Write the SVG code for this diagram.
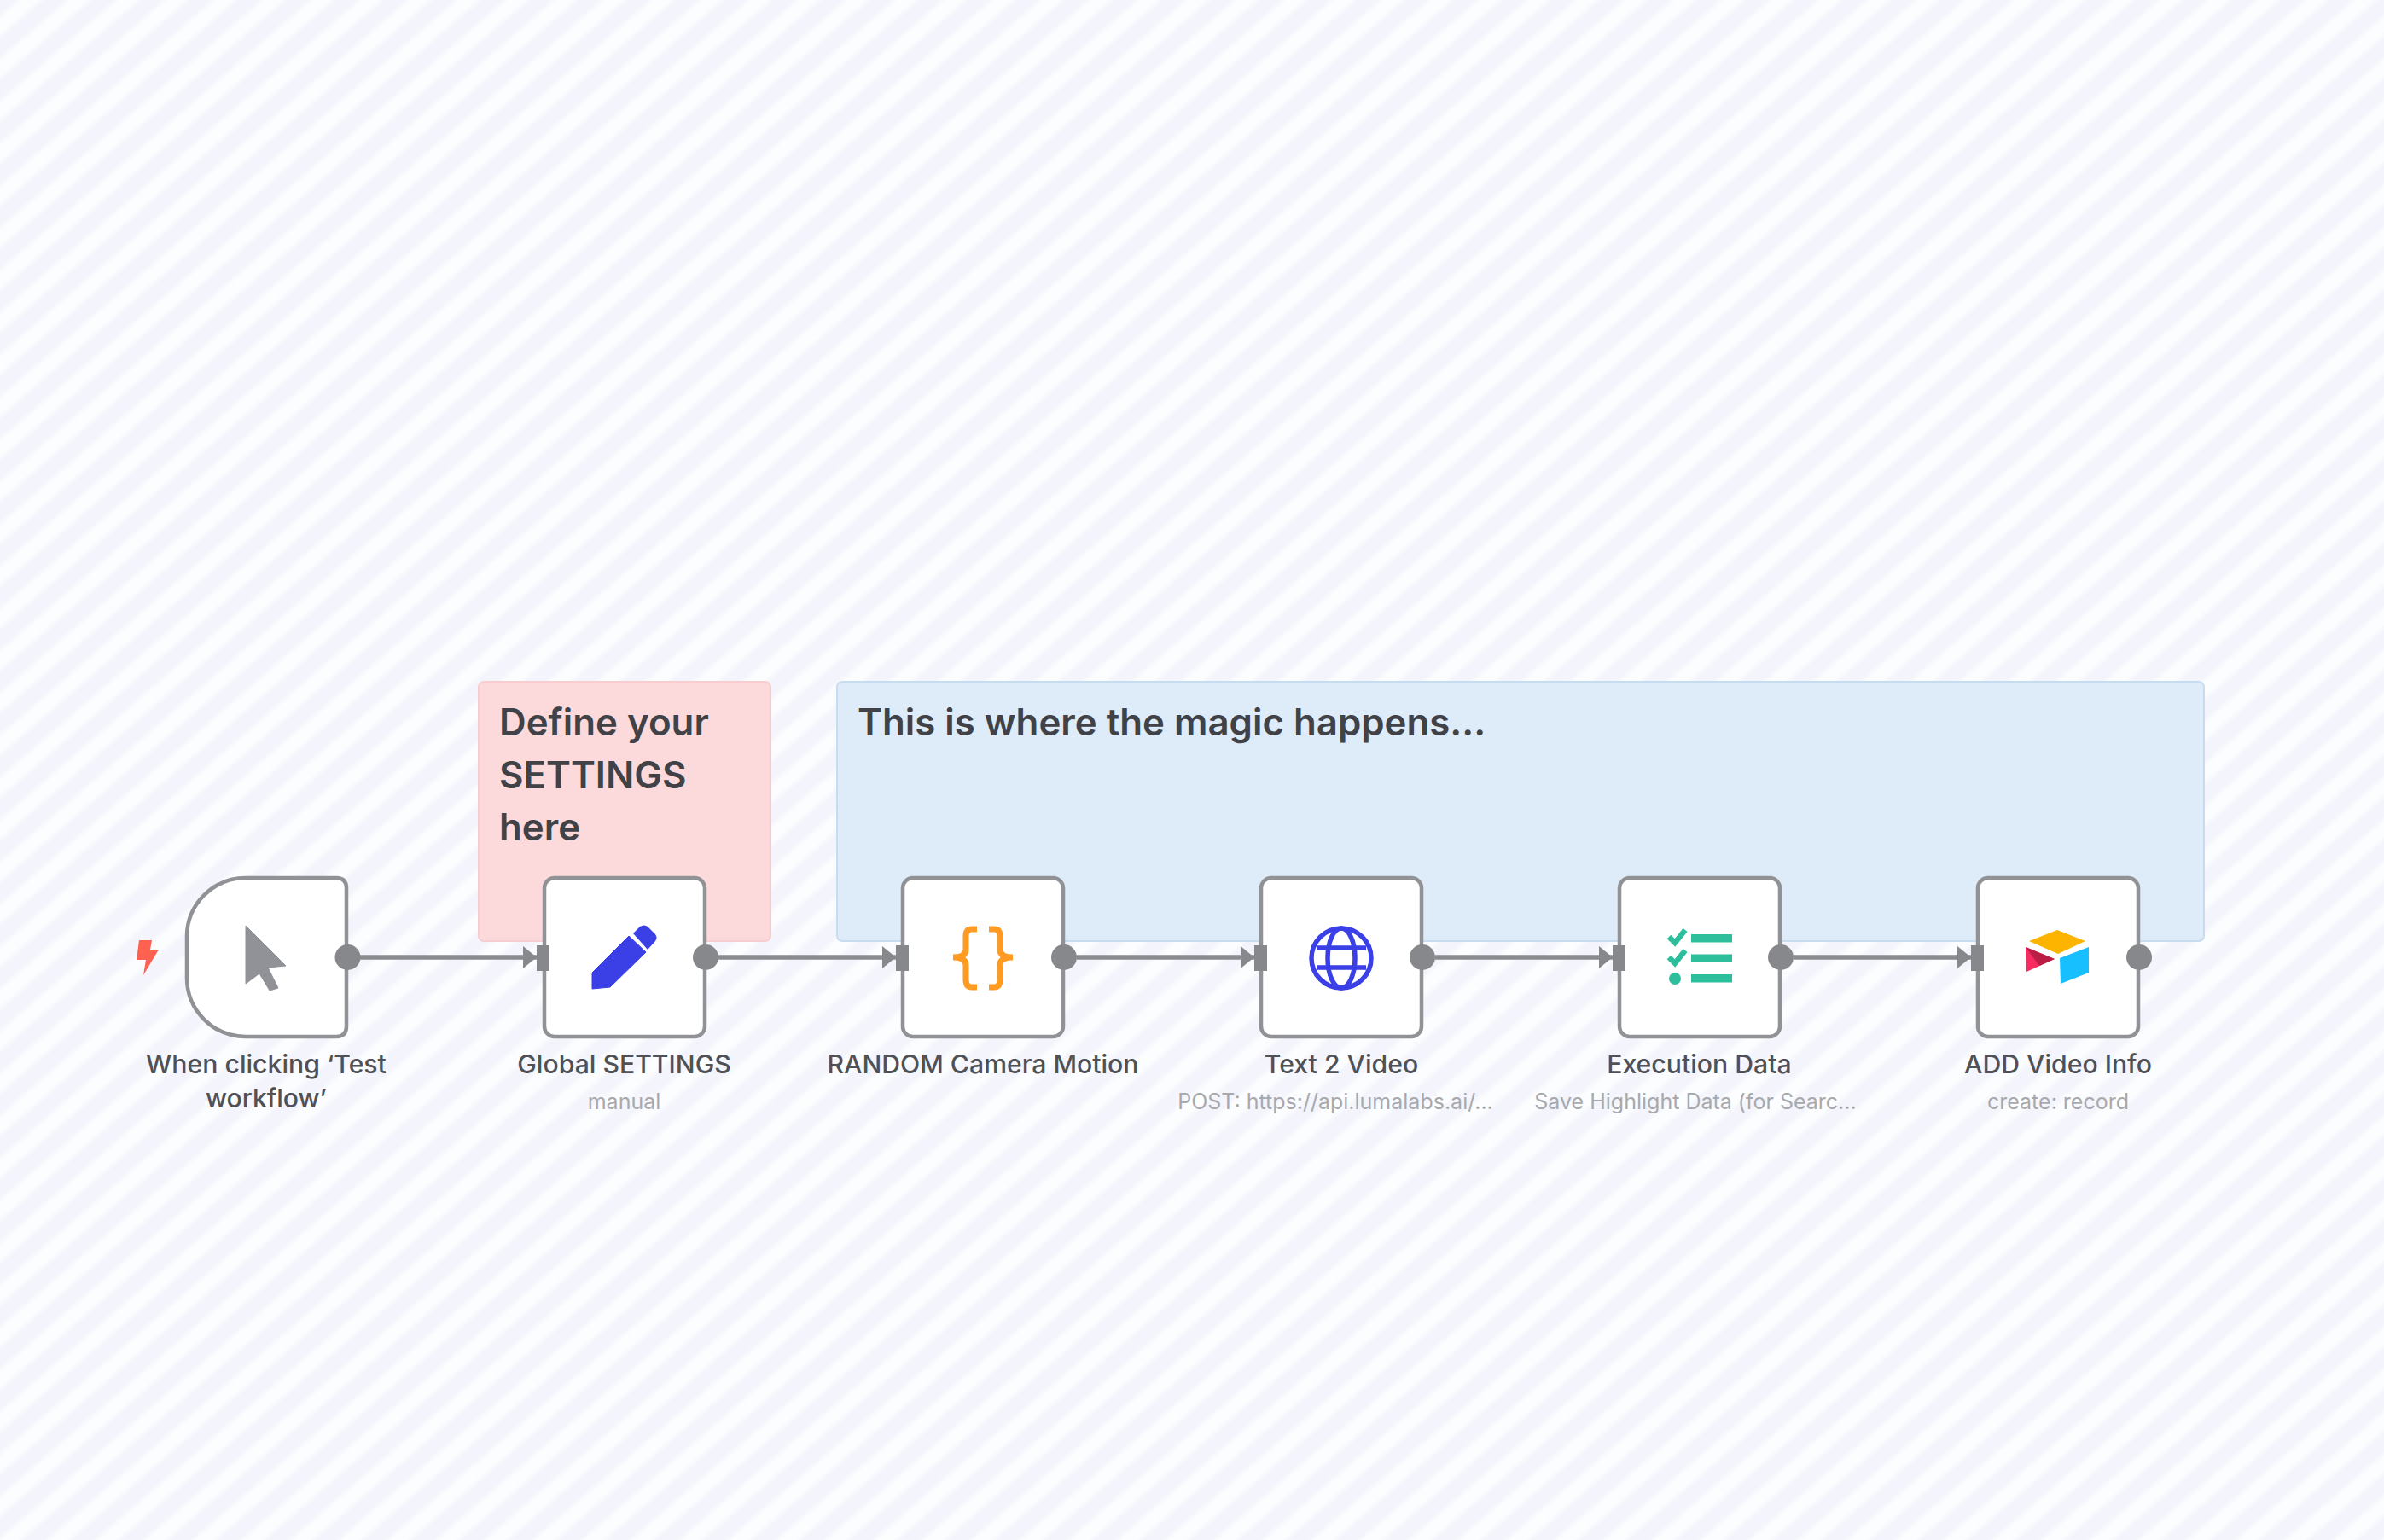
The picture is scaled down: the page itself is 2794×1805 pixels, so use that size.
<svg xmlns="http://www.w3.org/2000/svg" width="2794" height="1805" viewBox="0 0 2794 1805">
<style>
text{font-family:Inter,"Liberation Sans",sans-serif}
.box{fill:#fff;stroke:#919296;stroke-width:4.500}
.port{fill:#87888c}
.title{font-size:43.800px;font-weight:600;fill:#414247}
.label{font-size:30.200px;font-weight:500;fill:#505156;text-anchor:middle}
.sub{font-size:25px;fill:#a8a9ad;text-anchor:middle}
.edge{stroke:#8a8b8f;stroke-width:5.500;fill:none}
</style>
<defs>
<linearGradient id="stripeFade" x1="0" y1="0" x2="0" y2="1">
<stop offset="0" stop-color="#f4f5fc"/><stop offset=".18" stop-color="#f4f5fc"/><stop offset=".36" stop-color="#fcfdfe"/><stop offset=".64" stop-color="#fcfdfe"/><stop offset=".82" stop-color="#f4f5fc"/><stop offset="1" stop-color="#f4f5fc"/>
</linearGradient>
<pattern id="stripes" width="100" height="37.400" patternUnits="userSpaceOnUse" patternTransform="rotate(-41) translate(0,4.600)">
<rect width="100" height="37.400" fill="url(#stripeFade)"/>
</pattern>
<marker id="arrow" markerWidth="16" markerHeight="26" refX="16" refY="13" orient="auto" markerUnits="userSpaceOnUse"><path d="M0 0L16 13L0 26Z" fill="#87888c"/></marker>
</defs>
<rect id="background" width="2794" height="1805" fill="url(#stripes)"/>
<g id="sticky-settings"><rect x="561" y="799" width="342" height="304" rx="6" fill="#fcdadc" stroke="#f7cdd0" stroke-width="2"/>
<text class="title"><tspan x="585" y="862">Define your</tspan><tspan x="585" y="923.500">SETTINGS</tspan><tspan x="585" y="985">here</tspan></text></g>
<g id="sticky-magic"><rect x="981" y="799" width="1602" height="304" rx="6" fill="#deebf8" stroke="#c8dcf0" stroke-width="2"/>
<text class="title" x="1005" y="862">This is where the magic happens...</text></g>
<g id="connectors">
<path class="edge" d="M422 1122H629" marker-end="url(#arrow)"/>
<path class="edge" d="M842 1122H1050" marker-end="url(#arrow)"/>
<path class="edge" d="M1262 1122H1470" marker-end="url(#arrow)"/>
<path class="edge" d="M1682 1122H1890" marker-end="url(#arrow)"/>
<path class="edge" d="M2102 1122H2310" marker-end="url(#arrow)"/>
</g>
<g id="node-trigger">
<path class="box" d="M288 1029H394Q406 1029 406 1041V1203Q406 1215 394 1215H288A69 69 0 0 1 219 1146V1098A69 69 0 0 1 288 1029Z"/>
<path d="M288 1085L335 1132L314 1134L326 1158L316 1161L304 1141L288 1153Z" fill="#919297" stroke="#919297" stroke-width="1" stroke-linejoin="round"/>
<path d="M163 1102H178L176 1113H186L168 1143L171 1125H160Z" fill="#ff6150"/>
<circle class="port" cx="407.500" cy="1122" r="15"/>
<text class="label" x="312" y="1258">When clicking ‘Test</text><text class="label" x="312" y="1298">workflow’</text>
</g>
<g id="node-settings">
<rect class="box" x="638" y="1029" width="188" height="186" rx="12"/>
<rect class="port" x="629" y="1108" width="15" height="30"/>
<circle class="port" cx="827" cy="1122" r="15"/>
<path d="M694 1159V1140L737 1097L757 1116L715 1157Z" fill="#3a3fe6" stroke="#3a3fe6" stroke-width="1" stroke-linejoin="round"/>
<path d="M742 1094L750 1086Q755 1083 759 1086L768 1095Q771 1099 768 1103L759 1113Z" fill="#3a3fe6"/>
<text class="label" x="731.500" y="1258">Global SETTINGS</text><text class="sub" x="731.500" y="1300">manual</text>
</g>
<g id="node-random">
<rect class="box" x="1058" y="1029" width="188" height="186" rx="12"/>
<rect class="port" x="1050" y="1108" width="15" height="30"/>
<circle class="port" cx="1247" cy="1122" r="15"/>
<path d="M1145 1089H1139Q1132 1089 1132 1097V1113Q1132 1122 1117 1122Q1132 1122 1132 1131V1148Q1132 1157 1139 1157H1145M1159 1089H1165Q1172 1089 1172 1097V1113Q1172 1122 1187 1122Q1172 1122 1172 1131V1148Q1172 1157 1165 1157H1159" fill="none" stroke="#ff9a22" stroke-width="7"/>
<text class="label" x="1152" y="1258">RANDOM Camera Motion</text>
</g>
<g id="node-text2video">
<rect class="box" x="1478" y="1029" width="188" height="186" rx="12"/>
<rect class="port" x="1470" y="1108" width="15" height="30"/>
<circle class="port" cx="1667" cy="1122" r="15"/>
<g fill="none" stroke="#3a3fe6" stroke-width="5.500"><circle cx="1572" cy="1123" r="35"/><ellipse cx="1572" cy="1123" rx="16" ry="35"/><path d="M1543 1111H1601M1543 1134H1601"/></g>
<text class="label" x="1572" y="1258">Text 2 Video</text><text class="sub" x="1565" y="1300">POST: https://api.lumalabs.ai/...</text>
</g>
<g id="node-execution">
<rect class="box" x="1898" y="1029" width="188" height="186" rx="12"/>
<rect class="port" x="1890" y="1108" width="15" height="30"/>
<circle class="port" cx="2087" cy="1122" r="15"/>
<g fill="#2dbf9b"><rect x="1982" y="1095" width="48" height="9.500"/><rect x="1982" y="1118.500" width="48" height="9.500"/><rect x="1982" y="1142" width="48" height="9.500"/><circle cx="1963" cy="1147" r="7"/></g>
<path d="M1956 1098L1963 1105L1975 1090M1956 1122L1963 1129L1975 1114" fill="none" stroke="#2dbf9b" stroke-width="6.500"/>
<text class="label" x="1991.500" y="1258">Execution Data</text><text class="sub" x="1987" y="1300">Save Highlight Data (for Searc...</text>
</g>
<g id="node-airtable">
<rect class="box" x="2318" y="1029" width="188" height="186" rx="12"/>
<rect class="port" x="2310" y="1108" width="15" height="30"/>
<circle class="port" cx="2507" cy="1122" r="15"/>
<path d="M2411 1090L2444 1103L2412 1118L2378 1103Z" fill="#fcb400"/>
<path d="M2448 1110V1140L2415 1153L2414 1123Z" fill="#18bfff"/>
<path d="M2374 1110L2408 1124L2375 1139Z" fill="#f82b60"/>
<path d="M2374 1110L2408 1124L2390 1132Z" fill="#ba1e45"/>
<text class="label" x="2412" y="1258">ADD Video Info</text><text class="sub" x="2412" y="1300">create: record</text>
</g>
</svg>
